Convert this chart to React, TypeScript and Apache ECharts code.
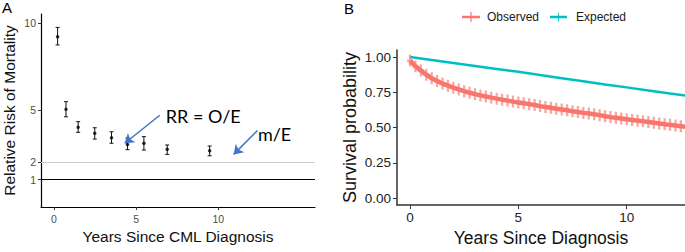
import React, { useEffect, useRef } from "react";
import * as echarts from "echarts";

// Panel A: relative risk of mortality
const rrYears = [0.22, 0.73, 1.47, 2.48, 3.5, 4.47, 5.47, 6.89, 9.47];
const rrValue = [9.21, 5.04, 4.01, 3.66, 3.41, 3.02, 3.09, 2.74, 2.66];
const rrLower = [8.74, 4.61, 3.72, 3.33, 3.09, 2.72, 2.7, 2.45, 2.37];
const rrUpper = [9.75, 5.48, 4.33, 3.98, 3.75, 3.39, 3.47, 2.99, 2.93];
const rrTicksY = [1, 2, 5, 10];
const rrTicksX = [0, 5, 10];

// Panel B: survival
const obsYears = [
  0, 0.25, 0.5, 0.75, 1, 1.25, 1.5, 1.75, 2, 2.25, 2.5, 2.75, 3, 3.25, 3.5, 3.75, 4, 4.25, 4.5,
  4.75, 5, 5.25, 5.5, 5.75, 6, 6.25, 6.5, 6.75, 7, 7.25, 7.5, 7.75, 8, 8.25, 8.5, 8.75, 9, 9.25,
  9.5, 9.75, 10, 10.25, 10.5, 10.75, 11, 11.25, 11.5, 11.75, 12, 12.25, 12.5, 12.75,
];
const obsSurv = [
  0.975, 0.935, 0.905, 0.875, 0.85, 0.83, 0.812, 0.797, 0.783, 0.77, 0.758, 0.747, 0.737, 0.728,
  0.72, 0.712, 0.705, 0.698, 0.691, 0.684, 0.678, 0.672, 0.666, 0.66, 0.652, 0.646, 0.64, 0.634,
  0.628, 0.622, 0.616, 0.61, 0.604, 0.599, 0.594, 0.588, 0.58, 0.574, 0.569, 0.564, 0.559, 0.554,
  0.549, 0.544, 0.539, 0.534, 0.529, 0.524, 0.519, 0.514, 0.51, 0.505,
];
const expYears = [0, 1, 2, 3, 4, 5, 6, 7, 8, 9, 10, 11, 12, 13];
const expSurv = [1.0, 0.979, 0.958, 0.937, 0.916, 0.895, 0.872, 0.85, 0.828, 0.806, 0.785, 0.763, 0.741, 0.72];
const survTicksY = [0, 0.25, 0.5, 0.75, 1];
const survTicksX = [0, 5, 10];

const FONT = "'Liberation Sans', Arial, sans-serif";
const PLUS = "path://M2.5,0h3v4h2.5v2h-2.5v4h-3v-4h-2.5v-2h2.5z";

export default function App() {
  const ref = useRef<HTMLDivElement>(null);
  useEffect(() => {
    if (!ref.current) return;
    const chart = echarts.init(ref.current, undefined, { renderer: "svg" });
    const errData = rrYears.map((x, i) => [x, rrValue[i], rrLower[i], rrUpper[i]]);
    const option: any = {
      animation: false,
      backgroundColor: "#fff",
      grid: [
        { left: 40, top: 14, width: 275, height: 193, containLabel: false },
        { left: 397, top: 50, width: 288, height: 161, containLabel: false },
      ],
      xAxis: [
        {
          type: "value",
          gridIndex: 0,
          min: -0.79,
          max: 15.88,
          splitLine: { show: false },
          axisLine: { onZero: false, lineStyle: { color: "#000", width: 1.2 } },
          axisTick: { customValues: rrTicksX, length: 3, lineStyle: { color: "#333" } },
          axisLabel: { customValues: rrTicksX, color: "#4d4d4d", fontSize: 10.5, fontFamily: FONT, margin: 6 },
          name: "Years Since CML Diagnosis",
          nameLocation: "middle",
          nameGap: 21,
          nameTextStyle: { color: "#111", fontSize: 15.5, fontFamily: FONT },
        },
        {
          type: "value",
          gridIndex: 1,
          min: -0.6,
          max: 12.69,
          splitLine: { show: false },
          axisLine: { onZero: false, lineStyle: { color: "#333", width: 1.5 } },
          axisTick: { customValues: survTicksX, length: 4, lineStyle: { color: "#333" } },
          axisLabel: { customValues: survTicksX, color: "#222", fontSize: 13.5, fontFamily: FONT, margin: 5 },
          name: "Years Since Diagnosis",
          nameLocation: "middle",
          nameGap: 22,
          nameTextStyle: { color: "#111", fontSize: 17.5, fontFamily: FONT },
        },
      ],
      yAxis: [
        {
          type: "value",
          gridIndex: 0,
          min: -0.575,
          max: 10.52,
          splitLine: { show: false },
          axisLine: { show: true, onZero: false, lineStyle: { color: "#000", width: 1.2 } },
          axisTick: { show: true, customValues: rrTicksY, length: 3, lineStyle: { color: "#333" } },
          axisLabel: { customValues: rrTicksY, color: "#4d4d4d", fontSize: 10.5, fontFamily: FONT, margin: 5 },
          name: "Relative Risk of Mortality",
          nameLocation: "middle",
          nameGap: 24,
          nameTextStyle: { color: "#111", fontSize: 15.5, fontFamily: FONT },
        },
        {
          type: "value",
          gridIndex: 1,
          min: -0.05,
          max: 1.05,
          splitLine: { show: false },
          axisLine: { show: true, onZero: false, lineStyle: { color: "#333", width: 1.5 } },
          axisTick: { show: true, customValues: survTicksY, length: 4, lineStyle: { color: "#333" } },
          axisLabel: {
            customValues: survTicksY,
            color: "#222",
            fontSize: 13.5,
            fontFamily: FONT,
            margin: 6,
            formatter: (v: number) => v.toFixed(2),
          },
          name: "Survival probability",
          nameLocation: "middle",
          nameGap: 38,
          nameTextStyle: { color: "#111", fontSize: 18, fontFamily: FONT },
        },
      ],
      series: [
        {
          type: "custom",
          xAxisIndex: 0,
          yAxisIndex: 0,
          data: errData,
          encode: { x: 0, y: 1 },
          renderItem: (params: any, api: any) => {
            const x = api.value(0);
            const top = api.coord([x, api.value(3)]);
            const bot = api.coord([x, api.value(2)]);
            const st = { stroke: "#111", lineWidth: 1 };
            return {
              type: "group",
              children: [
                { type: "line", shape: { x1: top[0], y1: top[1], x2: bot[0], y2: bot[1] }, style: st },
                { type: "line", shape: { x1: top[0] - 2, y1: top[1], x2: top[0] + 2, y2: top[1] }, style: st },
                { type: "line", shape: { x1: bot[0] - 2, y1: bot[1], x2: bot[0] + 2, y2: bot[1] }, style: st },
              ],
            };
          },
          z: 3,
        },
        {
          type: "scatter",
          xAxisIndex: 0,
          yAxisIndex: 0,
          data: rrYears.map((x, i) => [x, rrValue[i]]),
          symbol: "circle",
          symbolSize: 3.5,
          itemStyle: { color: "#000" },
          z: 4,
          markLine: {
            silent: true,
            animation: false,
            label: { show: false },
            data: [
              [
                { coord: [6.44, 4.7], symbol: "none" },
                { coord: [4.3, 3.09], symbol: "arrow", symbolSize: 9 },
              ],
              [
                { coord: [12.38, 3.82], symbol: "none" },
                { coord: [10.93, 2.45], symbol: "arrow", symbolSize: 9 },
              ],
              { yAxis: 2, symbol: "none", lineStyle: { color: "#cccccc", width: 1, type: "solid" } },
              { yAxis: 1, symbol: "none", lineStyle: { color: "#000", width: 1, type: "solid" } },
            ],
            lineStyle: { color: "#4472C4", width: 1.5, type: "solid" },
            symbol: ["none", "none"],
          },
          markPoint: {
            silent: true,
            symbol: "circle",
            symbolSize: 0,
            data: [
              { coord: [9.08, 4.66], value: "RR = O/E" },
              { coord: [13.42, 3.62], value: "m/E" },
            ],
            label: {
              show: true,
              position: "inside",
              formatter: (p: any) => p.value,
              color: "#000",
              fontSize: 18,
              fontFamily: "Lato, 'Open Sans', sans-serif",
            },
          },
        },
        {
          type: "line",
          name: "Expected",
          xAxisIndex: 1,
          yAxisIndex: 1,
          data: expYears.map((x, i) => [x, expSurv[i]]),
          showSymbol: false,
          symbol: "none",
          lineStyle: { color: "#00BFC4", width: 2.5 },
          itemStyle: { color: "#00BFC4" },
          clip: true,
          z: 2,
        },
        {
          type: "line",
          name: "Observed",
          xAxisIndex: 1,
          yAxisIndex: 1,
          data: obsYears.map((x, i) => [x, obsSurv[i]]),
          showSymbol: true,
          showAllSymbol: true,
          symbol: PLUS,
          symbolSize: [6, 12],
          lineStyle: { color: "#F8766D", width: 4.5 },
          itemStyle: { color: "#F8766D", opacity: 0.65 },
          clip: true,
          z: 3,
        },
      ],
      graphic: [
        { type: "text", left: 2, top: 0, style: { text: "A", fontSize: 15, fontFamily: FONT, fill: "#000" } },
        { type: "text", left: 344, top: 1, style: { text: "B", fontSize: 15, fontFamily: FONT, fill: "#000" } },
        { type: "line", shape: { x1: 462, y1: 17, x2: 480, y2: 17 }, style: { stroke: "#F8766D", lineWidth: 2.5 } },
        { type: "line", shape: { x1: 471, y1: 12, x2: 471, y2: 22 }, style: { stroke: "#F8766D", lineWidth: 1.5, opacity: 0.8 } },
        {
          type: "text",
          x: 487,
          y: 17,
          style: { text: "Observed", fontSize: 12, fontFamily: FONT, fill: "#1a1a1a", verticalAlign: "middle" },
        },
        { type: "line", shape: { x1: 550, y1: 17, x2: 567, y2: 17 }, style: { stroke: "#00BFC4", lineWidth: 2.5 } },
        { type: "line", shape: { x1: 558.5, y1: 13, x2: 558.5, y2: 21 }, style: { stroke: "#00BFC4", lineWidth: 1 } },
        {
          type: "text",
          x: 576,
          y: 17,
          style: { text: "Expected", fontSize: 12, fontFamily: FONT, fill: "#1a1a1a", verticalAlign: "middle" },
        },
      ],
    };
    chart.setOption(option);
    return () => chart.dispose();
  }, []);
  return <div ref={ref} style={{ width: 685, height: 252, position: "absolute", left: 0, top: 0 }} />;
}
